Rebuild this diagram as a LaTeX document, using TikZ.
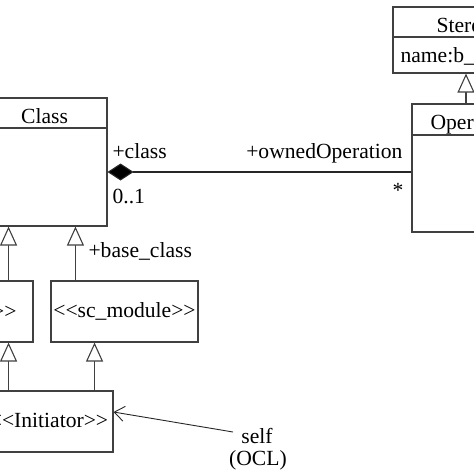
\documentclass[tikz,border=0pt]{standalone}
\usepackage{fontspec}
\setmainfont{Liberation Serif}
\usetikzlibrary{arrows.meta}

\begin{document}
\begin{tikzpicture}[x=1pt, y=-1pt, line width=1.1pt,
    every node/.style={font=\fontsize{21.6}{24}\selectfont, inner sep=0pt},
    box/.style={draw=black!75, rectangle, text height=15pt, text depth=4pt},
    sep/.style={draw=black!75},
    gen/.style={draw=black!75, -{Triangle[open, length=19pt, width=17pt, fill=white]}},
    comp/.style={draw=black!85, {Diamond[length=26pt, width=17pt, fill=black]}-},
    nav/.style={draw=black!85, line width=0.9pt, -{Straight Barb[length=10pt, width=15pt]}}]
      \useasboundingbox (0,0) rectangle (474,474);
      \clip (0,0) rectangle (474,474);
      \node[box, minimum width=125pt, minimum height=128pt] (class) at (44.5,162) {};
      \draw[sep] (class.west |- 0,128) -- (class.east |- 0,128);
      \node[anchor=base] (classname) at (44.5,123) {Class};
      \node[box, minimum width=146pt, minimum height=66pt] (stereo) at (466,40) {};
      \draw[sep] (stereo.west |- 0,37) -- (stereo.east |- 0,37);
      \node[anchor=base west] (stereoname) at (436,32) {Stere};
      \node[anchor=base west] (stereoattr) at (400,62) {name:b\_};
      \node[box, minimum width=108pt, minimum height=128pt] (oper) at (466,168) {};
      \draw[sep] (oper.west |- 0,135) -- (oper.east |- 0,135);
      \node[anchor=base west] (opername) at (430,129) {Oper};
      \node[box, minimum width=123pt, minimum height=61pt] (port) at (-28.5,311.5) {};
      \node[anchor=base east] (porttext) at (17,318) {>{}>};
      \node[box, minimum width=147pt, minimum height=61pt] (module) at (124.5,311.5) {<{}<sc\_module>{}>};
      \node[box, minimum width=128pt, minimum height=61pt] (init) at (49,421.5) {<{}<Initiator>{}>};
      \node[anchor=base] (selfname) at (257,443) {self};
      \node[anchor=base] (oclname) at (258,465) {(OCL)};
      \coordinate (selfend) at (233,432);

      \draw[gen] ([xshift=-25pt]port.north east) -- ([xshift=-25pt]port.north east |- class.south);
      \draw[gen] ([xshift=25pt]module.north west) -- ([xshift=25pt]module.north west |- class.south);
      \draw[gen] ([xshift=-25pt]port.south east |- init.north) -- ([xshift=-25pt]port.south east);
      \draw[gen] ([xshift=-19pt]init.north east) -- ([xshift=-19pt]init.north east |- module.south);
      \draw[gen] (oper.north) -- (stereo.south);
      \draw[comp] ([yshift=-10pt]class.east) -- ([yshift=-10pt]class.east -| oper.west);
      \draw[nav] (selfend) -- ([yshift=9.5pt]init.east);

      \node[anchor=base west] (rolea) at (112,158) {+class};
      \node[anchor=base west] (multa) at (112,203) {0..1};
      \node[anchor=base east] (roleb) at (403,158) {+ownedOperation};
      \node[anchor=base east] (multb) at (404,197) {*};
      \node[anchor=base west] (rolec) at (88,257) {+base\_class};
\end{tikzpicture}
\end{document}
